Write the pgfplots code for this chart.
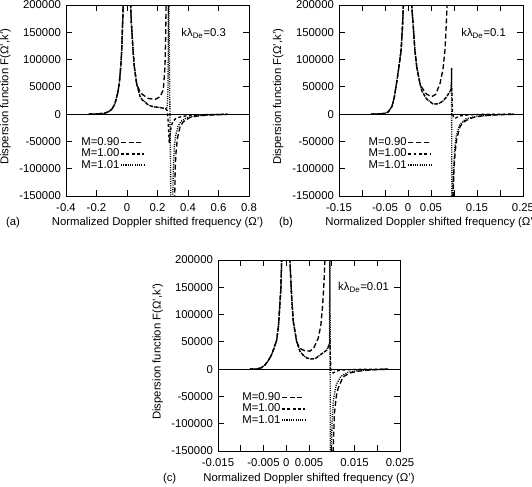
\documentclass[border=0pt]{standalone}
\usepackage{fontspec}
\setmainfont{Liberation Sans}
\usepackage{pgfplots}
\pgfplotsset{compat=1.18}
\pgfplotsset{
 panel/.style={
  scale only axis, height=143.25pt,
  ymin=-150000, ymax=200000,
  scaled x ticks=false, scaled y ticks=false,
  ytick={-150000,-100000,-50000,0,50000,100000,150000,200000},
  yticklabels={-150000,-100000,-50000,0,50000,100000,150000,200000},
  tick align=inside, major tick length=4.5pt,
  axis line style={line width=0.7pt},
  every tick/.style={line width=0.7pt, black},
  xticklabel style={yshift=-3pt},
  yticklabel style={xshift=-0.8pt},
  xlabel={Normalized Doppler shifted frequency (Ω')},
  ylabel={Dispersion function F(Ω',k')},
  xlabel style={at={(axis description cs:0.5,0)}, anchor=base, yshift=-22.5pt},
  ylabel style={at={(axis description cs:-0.28,0.52)}, anchor=south},
  unbounded coords=jump,
  legend plot pos=right, legend cell align=right,
  legend style={draw=none, fill=none, inner sep=0pt, row sep=0pt, nodes={inner sep=0.6pt}},
  every axis plot/.append style={line width=1pt, black},
  /pgf/number format/assume math mode=true,
 },
 m90/.style={dash pattern=on 3.75pt off 2pt},
 m100/.style={dash pattern=on 2.2pt off 1.8pt},
 m101/.style={dash pattern=on 0.8pt off 0.9pt},
}
\begin{document}
\fontsize{8.5}{10}\selectfont
\begin{tikzpicture}
\useasboundingbox (0,0) rectangle (399pt,364.5pt);
% ---------------- (a)
\begin{axis}[panel, width=137.25pt, at={(49.5pt,217.5pt)}, anchor=south west,
  xmin=-0.4, xmax=0.8,
  xtick={-0.4,-0.2,0,0.2,0.4,0.6,0.8},
  xticklabels={-0.4,-0.2,0,0.2,0.4,0.6,0.8},
  legend style={at={(axis description cs:0.078,0.31)}, anchor=north west}]
\addplot[m90] coordinates {
(-0.25,0)(-0.2,400)(-0.17,1000)(-0.144,2000)(-0.12,4500)(-0.1,9000)(-0.09,13400)(-0.08,19000)(-0.07,28000)(-0.06,40000)(-0.05,58000)(-0.041,87000)(-0.035,115000)(-0.031,148000)(-0.027,180000)(-0.024,210000)(-0.02,260000)
(0,nan)
(0.02,260000)(0.024,200000)(0.028,170000)(0.033,148000)(0.04,115000)(0.048,87000)(0.063,56000)(0.085,41000)(0.107,34800)(0.14,28700)(0.184,27000)(0.216,31700)(0.238,44000)(0.249,86700)(0.254,148000)(0.256,200000)(0.258,260000)
(0.28,nan)
(0.311,-200000)(0.313,-150000)(0.316,-100000)(0.32,-75000)(0.33,-45000)(0.348,-23000)(0.369,-14000)(0.413,-6000)(0.46,-3500)(0.52,-2000)(0.6,-900)(0.66,-400)};
\addlegendentry{M=0.90}
\addplot[m100] coordinates {
(-0.25,0)(-0.2,400)(-0.17,1000)(-0.144,2000)(-0.12,4500)(-0.1,9000)(-0.09,13400)(-0.08,19000)(-0.07,28000)(-0.06,40000)(-0.05,58000)(-0.041,87000)(-0.035,115000)(-0.031,148000)(-0.027,180000)(-0.024,210000)(-0.02,260000)
(0,nan)
(0.02,260000)(0.024,200000)(0.028,170000)(0.033,148000)(0.04,115000)(0.048,87000)(0.063,56000)(0.085,33000)(0.1,26000)(0.118,22500)(0.14,16500)(0.173,13400)(0.216,12200)(0.249,10400)(0.258,9000)(0.264,6000)(0.268,-5000)(0.272,-25000)(0.277,-53000)(0.282,-40000)(0.29,-22000)(0.3,-14000)(0.32,-8000)(0.35,-5000)(0.4,-2500)(0.5,-1000)(0.66,-200)};
\addlegendentry{M=1.00}
\addplot[m101] coordinates {
(-0.25,0)(-0.2,400)(-0.17,1000)(-0.144,2000)(-0.12,4500)(-0.1,9000)(-0.09,13400)(-0.08,19000)(-0.07,28000)(-0.06,40000)(-0.05,58000)(-0.041,87000)(-0.035,115000)(-0.031,148000)(-0.027,180000)(-0.024,210000)(-0.02,260000)
(0,nan)
(0.02,260000)(0.024,200000)(0.028,170000)(0.033,148000)(0.04,115000)(0.048,87000)(0.063,56000)(0.085,33000)(0.1,26000)(0.118,22500)(0.14,16500)(0.173,13400)(0.216,12200)(0.249,10400)(0.258,9500)(0.264,15000)(0.268,40000)(0.27,100000)(0.271,200000)(0.272,260000)(0.29,-220000)(0.3,-150000)(0.304,-100000)(0.31,-60000)(0.32,-38000)(0.335,-22000)(0.355,-13000)(0.39,-7000)(0.44,-3500)(0.5,-1800)(0.58,-800)(0.66,-300)};
\addlegendentry{M=1.01}
\addplot[forget plot, solid, line width=0.7pt] coordinates {(-0.4,0)(0.8,0)};
\node[anchor=base east] at (rel axis cs:0.896,0.836) {kλ\textsubscript{De}=0.3};
\end{axis}
% ---------------- (b)
\begin{axis}[panel, width=138pt, at={(254.25pt,217.5pt)}, anchor=south west,
  xmin=-0.15, xmax=0.25,
  xtick={-0.15,-0.1,-0.05,0,0.05,0.1,0.15,0.2,0.25},
  xticklabels={-0.15,,-0.05,0,0.05,,0.15,,0.25},
  legend style={at={(axis description cs:0.155,0.31)}, anchor=north west}]
\addplot[m90] coordinates {
(-0.08,0)(-0.06,600)(-0.05,1500)(-0.043,4000)(-0.035,14000)(-0.03,30000)(-0.025,56000)(-0.02,85000)(-0.015,117000)(-0.012,160000)(-0.01,200000)(-0.008,260000)
(0,nan)
(0.006,260000)(0.008,200000)(0.0115,160000)(0.015,117000)(0.019,86700)(0.026,56000)(0.03,49000)(0.04,37000)(0.0515,32000)(0.06,36000)(0.0696,56000)(0.076,82000)(0.0804,117000)(0.083,160000)(0.085,200000)(0.086,260000)
(0.09,nan)
(0.097,-250000)(0.098,-150000)(0.1,-100000)(0.103,-65000)(0.106,-45000)(0.113,-23000)(0.12,-15000)(0.128,-11000)(0.14,-6500)(0.157,-3700)(0.18,-1800)(0.2,-1000)(0.233,-300)};
\addlegendentry{M=0.90}
\addplot[m100] coordinates {
(-0.08,0)(-0.06,600)(-0.05,1500)(-0.043,4000)(-0.035,14000)(-0.03,30000)(-0.025,56000)(-0.02,85000)(-0.015,117000)(-0.012,160000)(-0.01,200000)(-0.008,260000)
(0,nan)
(0.006,260000)(0.008,200000)(0.0115,160000)(0.015,117000)(0.019,86700)(0.026,56000)(0.03,43000)(0.04,28000)(0.055,18300)(0.065,19000)(0.075,23000)(0.084,31700)(0.09,40000)(0.093,44000)(0.095,50000)(0.097,0)(0.099,-5000)(0.102,-8000)(0.106,-6000)(0.115,-3000)(0.13,-1500)(0.15,-600)(0.2,-100)(0.23,0)};
\addlegendentry{M=1.00}
\addplot[m101] coordinates {
(-0.08,0)(-0.06,600)(-0.05,1500)(-0.043,4000)(-0.035,14000)(-0.03,30000)(-0.025,56000)(-0.02,85000)(-0.015,117000)(-0.012,160000)(-0.01,200000)(-0.008,260000)
(0,nan)
(0.006,260000)(0.008,200000)(0.0115,160000)(0.015,117000)(0.019,86700)(0.026,56000)(0.03,43000)(0.04,28000)(0.055,18300)(0.065,19000)(0.075,23000)(0.084,31700)(0.09,40000)(0.093,44000)(0.0945,60000)(0.0948,85000)(0.0952,-250000)(0.097,-150000)(0.099,-100000)(0.102,-60000)(0.105,-40000)(0.112,-20000)(0.125,-9000)(0.15,-3500)(0.2,-800)(0.233,-200)};
\addlegendentry{M=1.01}
\addplot[forget plot, solid, line width=0.7pt] coordinates {(-0.15,0)(0.25,0)};
\node[anchor=base east] at (rel axis cs:0.929,0.836) {kλ\textsubscript{De}=0.1};
\end{axis}
% ---------------- (c)
\begin{axis}[panel, width=136.5pt, at={(163.5pt,26.25pt)}, anchor=south west,
  xmin=-0.015, xmax=0.025,
  xtick={-0.015,-0.01,-0.005,0,0.005,0.01,0.015,0.02,0.025},
  xticklabels={-0.015,,-0.005,0,0.005,,0.015,,0.025},
  legend style={at={(axis description cs:0.128,0.31)}, anchor=north west}]
\addplot[m90] coordinates {
(-0.008,0)(-0.0065,300)(-0.0055,2500)(-0.0047,7500)(-0.004,15000)(-0.0033,25000)(-0.0027,38000)(-0.0021,53000)(-0.0017,80000)(-0.0012,145000)(-0.001,200000)(-0.0008,260000)
(0,nan)
(0.0006,260000)(0.0008,200000)(0.0012,130000)(0.00155,87000)(0.0023,50000)(0.003,38000)(0.004,34000)(0.0052,33000)(0.006,38000)(0.007,56000)(0.0076,80000)(0.008,117000)(0.0083,160000)(0.0085,200000)(0.0087,260000)
(0.009,nan)
(0.0102,-250000)(0.0103,-150000)(0.0106,-80000)(0.011,-50000)(0.0114,-35000)(0.0125,-14000)(0.014,-7000)(0.0155,-4000)(0.018,-1800)(0.0206,-500)(0.0224,-200)};
\addlegendentry{M=0.90}
\addplot[m100] coordinates {
(-0.008,0)(-0.0065,300)(-0.0055,2500)(-0.0047,7500)(-0.004,15000)(-0.0033,25000)(-0.0027,38000)(-0.0021,53000)(-0.0017,80000)(-0.0012,145000)(-0.001,200000)(-0.0008,260000)
(0,nan)
(0.0006,260000)(0.0008,200000)(0.0012,130000)(0.00155,87000)(0.0023,50000)(0.003,33000)(0.0037,25800)(0.0046,20000)(0.0056,18500)(0.0066,20500)(0.0074,25800)(0.0083,31000)(0.0089,35000)(0.0093,42000)(0.0096,50000)(0.0098,0)(0.01,-5000)(0.0103,-7000)(0.0107,-5000)(0.0115,-2500)(0.013,-1200)(0.016,-500)(0.02,-100)(0.0224,0)};
\addlegendentry{M=1.00}
\addplot[m101] coordinates {
(-0.008,0)(-0.0065,300)(-0.0055,2500)(-0.0047,7500)(-0.004,15000)(-0.0033,25000)(-0.0027,38000)(-0.0021,53000)(-0.0017,80000)(-0.0012,145000)(-0.001,200000)(-0.0008,260000)
(0,nan)
(0.0006,260000)(0.0008,200000)(0.0012,130000)(0.00155,87000)(0.0023,50000)(0.003,33000)(0.0037,25800)(0.0046,20000)(0.0056,18500)(0.0066,20500)(0.0074,25800)(0.0083,31000)(0.0089,35000)(0.0093,42000)(0.0095,48000)(0.00958,200000)(0.0096,300000)(0.0097,-300000)(0.0099,-150000)(0.0101,-90000)(0.0104,-55000)(0.011,-28000)(0.012,-13000)(0.0135,-6000)(0.016,-2500)(0.02,-700)(0.0224,-200)};
\addlegendentry{M=1.01}
\addplot[forget plot, solid, line width=0.7pt] coordinates {(-0.015,0)(0.025,0)};
\node[anchor=base east] at (rel axis cs:0.962,0.838) {kλ\textsubscript{De}=0.01};
\end{axis}
\node[anchor=base west] at (1.5pt,195pt) {(a)};
\node[anchor=base west] at (206.25pt,195pt) {(b)};
\node[anchor=base west] at (119.25pt,3.75pt) {(c)};
\end{tikzpicture}
\end{document}
